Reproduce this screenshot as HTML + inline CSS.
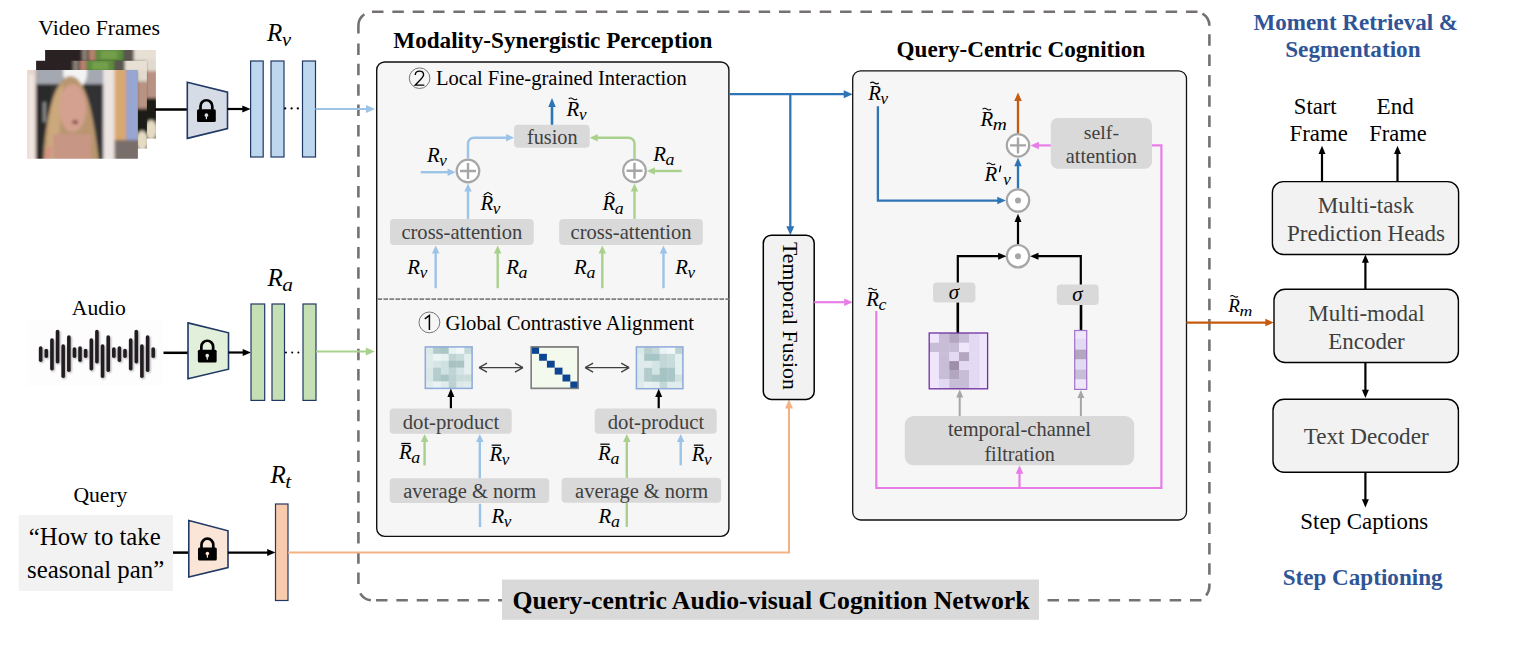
<!DOCTYPE html>
<html><head><meta charset="utf-8"><style>
html,body{margin:0;padding:0;background:#fff;width:1527px;height:653px;overflow:hidden;position:relative}
</style></head><body>
<svg width="1527" height="653" viewBox="0 0 1527 653" style="position:absolute;left:0;top:0">
<rect width="1527" height="653" fill="#fff"/>
<path d="M372.00 11.75h11.50 M392.35 11.75h11.50 M412.70 11.75h11.50 M433.05 11.75h11.50 M453.40 11.75h11.50 M473.75 11.75h11.50 M494.10 11.75h11.50 M514.45 11.75h11.50 M534.80 11.75h11.50 M555.15 11.75h11.50 M575.50 11.75h11.50 M595.85 11.75h11.50 M616.20 11.75h11.50 M636.55 11.75h11.50 M656.90 11.75h11.50 M677.25 11.75h11.50 M697.60 11.75h11.50 M717.95 11.75h11.50 M738.30 11.75h11.50 M758.65 11.75h11.50 M779.00 11.75h11.50 M799.35 11.75h11.50 M819.70 11.75h11.50 M840.05 11.75h11.50 M860.40 11.75h11.50 M880.75 11.75h11.50 M901.10 11.75h11.50 M921.45 11.75h11.50 M941.80 11.75h11.50 M962.15 11.75h11.50 M982.50 11.75h11.50 M1002.85 11.75h11.50 M1023.20 11.75h11.50 M1043.55 11.75h11.50 M1063.90 11.75h11.50 M1084.25 11.75h11.50 M1104.60 11.75h11.50 M1124.95 11.75h11.50 M1145.30 11.75h11.50 M1165.65 11.75h11.50 M1186.00 11.75h11.50 M1209.40 34.20v11.50 M1209.40 54.55v11.50 M1209.40 74.90v11.50 M1209.40 95.25v11.50 M1209.40 115.60v11.50 M1209.40 135.95v11.50 M1209.40 156.30v11.50 M1209.40 176.65v11.50 M1209.40 197.00v11.50 M1209.40 217.35v11.50 M1209.40 237.70v11.50 M1209.40 258.05v11.50 M1209.40 278.40v11.50 M1209.40 298.75v11.50 M1209.40 319.10v11.50 M1209.40 339.45v11.50 M1209.40 359.80v11.50 M1209.40 380.15v11.50 M1209.40 400.50v11.50 M1209.40 420.85v11.50 M1209.40 441.20v11.50 M1209.40 461.55v11.50 M1209.40 481.90v11.50 M1209.40 502.25v11.50 M1209.40 522.60v11.50 M1209.40 542.95v11.50 M1209.40 563.30v11.50 M376.00 600.30h11.50 M396.35 600.30h11.50 M416.70 600.30h11.50 M437.05 600.30h11.50 M457.40 600.30h11.50 M477.75 600.30h11.50 M498.10 600.30h11.50 M518.45 600.30h11.50 M538.80 600.30h11.50 M559.15 600.30h11.50 M579.50 600.30h11.50 M599.85 600.30h11.50 M620.20 600.30h11.50 M640.55 600.30h11.50 M660.90 600.30h11.50 M681.25 600.30h11.50 M701.60 600.30h11.50 M721.95 600.30h11.50 M742.30 600.30h11.50 M762.65 600.30h11.50 M783.00 600.30h11.50 M803.35 600.30h11.50 M823.70 600.30h11.50 M844.05 600.30h11.50 M864.40 600.30h11.50 M884.75 600.30h11.50 M905.10 600.30h11.50 M925.45 600.30h11.50 M945.80 600.30h11.50 M966.15 600.30h11.50 M986.50 600.30h11.50 M1006.85 600.30h11.50 M1027.20 600.30h11.50 M1047.55 600.30h11.50 M1067.90 600.30h11.50 M1088.25 600.30h11.50 M1108.60 600.30h11.50 M1128.95 600.30h11.50 M1149.30 600.30h11.50 M1169.65 600.30h11.50 M1190.00 600.30h11.50 M358.40 43.50v11.50 M358.40 63.85v11.50 M358.40 84.20v11.50 M358.40 104.55v11.50 M358.40 124.90v11.50 M358.40 145.25v11.50 M358.40 165.60v11.50 M358.40 185.95v11.50 M358.40 206.30v11.50 M358.40 226.65v11.50 M358.40 247.00v11.50 M358.40 267.35v11.50 M358.40 287.70v11.50 M358.40 308.05v11.50 M358.40 328.40v11.50 M358.40 348.75v11.50 M358.40 369.10v11.50 M358.40 389.45v11.50 M358.40 409.80v11.50 M358.40 430.15v11.50 M358.40 450.50v11.50 M358.40 470.85v11.50 M358.40 491.20v11.50 M358.40 511.55v11.50 M358.40 531.90v11.50 M358.40 552.25v11.50 M358.40 572.60v11.50 M358.40 33.5V25.75A14 14 0 0 1 364.37 14.28 M1202.40 13.63A14 14 0 0 1 1209.40 25.75V24.9 M1209.40 583.6V586.30A14 14 0 0 1 1206.12 595.30 M360.28 593.30A14 14 0 0 0 370.90 600.30" fill="none" stroke="#767171" stroke-width="2.6"/>
<text x="38.30" y="34.90" style="font-family:'Liberation Serif',serif;font-size:21.80px;" fill="#000" >Video Frames</text>
<defs><filter id="bl" x="-5%" y="-5%" width="110%" height="110%"><feGaussianBlur stdDeviation="1.7"/></filter><clipPath id="c1"><rect x="45.1" y="50" width="110.8" height="88.6"/></clipPath><clipPath id="c2"><rect x="36.1" y="60.8" width="110.8" height="87.8"/></clipPath><clipPath id="c3"><rect x="27.2" y="70.1" width="110.7" height="88.7"/></clipPath></defs>
<g clip-path="url(#c1)"><g filter="url(#bl)">
<rect x="42.1" y="47.0" width="117.0" height="95.0" fill="#2a2420"/>
<rect x="82.1" y="47.0" width="5.0" height="14.0" fill="#8a8278"/>
<rect x="88.7" y="47.0" width="7.0" height="14.0" fill="#b88070"/>
<rect x="95.5" y="47.0" width="28.1" height="14.0" fill="#5d8c3e"/>
<rect x="101.1" y="51.0" width="16.0" height="8.0" fill="#74a04c"/>
<rect x="123.6" y="47.0" width="10.2" height="14.0" fill="#5a5450"/>
<rect x="133.8" y="47.0" width="26.0" height="14.0" fill="#e8e0d4"/>
<rect x="146.1" y="59.0" width="14.0" height="12.0" fill="#e2dace"/>
<rect x="146.1" y="71.0" width="14.0" height="27.0" fill="#b89282"/>
<rect x="146.1" y="98.0" width="14.0" height="24.0" fill="#1c1a18"/>
<ellipse cx="151.1" cy="130.0" rx="6" ry="10" fill="#e6dcc4"/>
</g></g>
<g clip-path="url(#c2)"><g filter="url(#bl)">
<rect x="33.1" y="57.8" width="117.0" height="95.0" fill="#2a2420"/>
<rect x="73.1" y="57.8" width="5.0" height="14.0" fill="#8a8278"/>
<rect x="79.7" y="57.8" width="7.0" height="14.0" fill="#b88070"/>
<rect x="86.5" y="57.8" width="28.1" height="14.0" fill="#5d8c3e"/>
<rect x="92.1" y="61.8" width="16.0" height="8.0" fill="#74a04c"/>
<rect x="114.6" y="57.8" width="10.2" height="14.0" fill="#5a5450"/>
<rect x="124.8" y="57.8" width="26.0" height="14.0" fill="#e8e0d4"/>
<rect x="137.1" y="69.8" width="14.0" height="12.0" fill="#e2dace"/>
<rect x="137.1" y="81.8" width="14.0" height="27.0" fill="#b89282"/>
<rect x="137.1" y="108.8" width="14.0" height="24.0" fill="#1c1a18"/>
<ellipse cx="142.1" cy="140.8" rx="6" ry="10" fill="#e6dcc4"/>
</g></g>
<g clip-path="url(#c3)"><g filter="url(#bl)">
<rect x="24.2" y="67.1" width="117.0" height="95.0" fill="#313133"/>
<rect x="24.2" y="67.1" width="12.0" height="95.0" fill="#e8d6ce"/>
<rect x="29.2" y="75.1" width="4.0" height="85.0" fill="#f2eae6"/>
<rect x="36.2" y="67.1" width="70.0" height="17.0" fill="#a4a8b0"/>
<ellipse cx="75.2" cy="72.1" rx="12" ry="17" fill="#f4f4f4"/>
<rect x="36.2" y="84.1" width="15.0" height="80.0" fill="#2c2a2a"/>
<rect x="43.2" y="102.1" width="2.5" height="20.0" fill="#9a9a9a"/>
<rect x="84.2" y="84.1" width="20.0" height="60.0" fill="#303236"/>
<rect x="103.2" y="67.1" width="12.0" height="95.0" fill="#ece4e0"/>
<rect x="114.5" y="67.1" width="12.0" height="73.0" fill="#d8a870"/>
<rect x="126.2" y="67.1" width="14.0" height="73.0" fill="#98a6d2"/>
<rect x="114.5" y="140.1" width="26.0" height="22.0" fill="#7a6e6a"/>
<path d="M43.2 162.1 C 45.2 120.1 53.2 78.1 70.2 76.1 C 85.2 76.1 93.2 110.1 99.2 162.1 L 39.2 162.1 Z" fill="#b89670"/>
<path d="M46.2 160.1 C 47.2 120.1 53.2 90.1 63.2 84.1 L 57.2 160.1 Z" fill="#cfae80" opacity="0.8"/>
<ellipse cx="72.7" cy="108.1" rx="13.5" ry="24" fill="#d4a090"/>
<ellipse cx="75.2" cy="122.1" rx="3" ry="2.2" fill="#8a5048"/>
<rect x="53.2" y="134.1" width="38.0" height="28.0" fill="#c89684"/>
<path d="M44.2 160.1 l 4 -14 l 4 2 l -3 14z" fill="#d89088"/>
</g></g>
<line x1="155.00" y1="109.60" x2="188.00" y2="109.60" stroke="#000" stroke-width="2.50"/>
<polygon points="187.30,82.30 227.50,92.10 227.50,128.60 187.30,138.40" fill="#d6dce5" stroke="#203864" stroke-width="1.6"/>
<rect x="197.00" y="109.15" width="18.8" height="12.8" rx="1.5" fill="#000"/>
<path d="M200.50 109.65 v-3.5 a5.9 5.9 0 0 1 11.8 0 v3.5" fill="none" stroke="#000" stroke-width="2.7"/>
<circle cx="206.40" cy="115.15" r="1.8" fill="#d6dce5"/>
<rect x="205.80" y="115.15" width="1.2" height="4" fill="#d6dce5"/>
<polyline points="227.50,109.00 243.96,109.00" fill="none" stroke="#000" stroke-width="2.20" stroke-linejoin="miter" />
<polygon points="250.60,109.00 242.30,105.50 242.30,112.50" fill="#000"/>
<rect x="250.60" y="61.00" width="12.60" height="96.00" rx="0.00" fill="#bdd7ee" stroke="#203864" stroke-width="1.20" />
<rect x="271.00" y="61.00" width="13.00" height="96.00" rx="0.00" fill="#bdd7ee" stroke="#203864" stroke-width="1.20" />
<rect x="302.50" y="61.00" width="13.00" height="96.00" rx="0.00" fill="#bdd7ee" stroke="#203864" stroke-width="1.20" />
<circle cx="285.2" cy="108.4" r="1.15" fill="#000"/>
<circle cx="291.6" cy="108.4" r="1.15" fill="#000"/>
<circle cx="297.8" cy="108.4" r="1.15" fill="#000"/>
<text x="267.09" y="40.70" style="font-family:'Liberation Serif',serif;font-style:italic;font-size:25.00px">R</text>
<text transform="translate(281.90 45.70) scale(1.050 1)" x="0" y="0" style="font-family:'Liberation Serif',serif;font-style:italic;font-size:19.50px">v</text>
<polyline points="315.50,108.90 367.80,108.90" fill="none" stroke="#9dc3e6" stroke-width="2.00" stroke-linejoin="miter" />
<polygon points="375.00,108.90 366.00,104.90 366.00,112.90" fill="#9dc3e6"/>
<text x="71.80" y="314.60" style="font-family:'Liberation Serif',serif;font-size:21.64px;" fill="#000" >Audio</text>
<rect x="28" y="319.8" width="134.8" height="66.4" fill="#fdfdfd"/>
<defs><filter id="wsh" x="-50%" y="-10%" width="200%" height="120%"><feGaussianBlur in="SourceAlpha" stdDeviation="1.2"/><feOffset dx="0.6" dy="0.8"/><feComponentTransfer><feFuncA type="linear" slope="0.35"/></feComponentTransfer><feMerge><feMergeNode/><feMergeNode in="SourceGraphic"/></feMerge></filter></defs>
<g stroke="#231f20" stroke-width="3.6" stroke-linecap="round" filter="url(#wsh)">
<line x1="40.65" y1="348.00" x2="40.65" y2="360.20"/>
<line x1="46.25" y1="350.50" x2="46.25" y2="356.20"/>
<line x1="51.95" y1="340.00" x2="51.95" y2="368.70"/>
<line x1="57.55" y1="331.60" x2="57.55" y2="361.70"/>
<line x1="63.15" y1="346.00" x2="63.15" y2="376.20"/>
<line x1="68.85" y1="337.00" x2="68.85" y2="370.20"/>
<line x1="74.45" y1="349.00" x2="74.45" y2="356.20"/>
<line x1="80.02" y1="348.00" x2="80.02" y2="360.20"/>
<line x1="85.62" y1="350.50" x2="85.62" y2="356.20"/>
<line x1="91.32" y1="340.00" x2="91.32" y2="368.70"/>
<line x1="96.92" y1="331.60" x2="96.92" y2="361.70"/>
<line x1="102.52" y1="346.00" x2="102.52" y2="376.20"/>
<line x1="108.22" y1="337.00" x2="108.22" y2="370.20"/>
<line x1="113.82" y1="349.00" x2="113.82" y2="356.20"/>
<line x1="119.39" y1="348.00" x2="119.39" y2="360.20"/>
<line x1="124.99" y1="350.50" x2="124.99" y2="356.20"/>
<line x1="130.69" y1="340.00" x2="130.69" y2="368.70"/>
<line x1="136.29" y1="331.60" x2="136.29" y2="361.70"/>
<line x1="141.89" y1="346.00" x2="141.89" y2="376.20"/>
<line x1="147.59" y1="337.00" x2="147.59" y2="370.20"/>
<line x1="153.19" y1="349.00" x2="153.19" y2="356.20"/>
</g>
<line x1="163.50" y1="352.80" x2="188.50" y2="352.80" stroke="#000" stroke-width="2.50"/>
<polygon points="188.00,322.90 228.50,332.80 228.50,369.20 188.00,378.80" fill="#e2efda" stroke="#203864" stroke-width="1.6"/>
<rect x="197.85" y="349.65" width="18.8" height="12.8" rx="1.5" fill="#000"/>
<path d="M201.35 350.15 v-3.5 a5.9 5.9 0 0 1 11.8 0 v3.5" fill="none" stroke="#000" stroke-width="2.7"/>
<circle cx="207.25" cy="355.65" r="1.8" fill="#e2efda"/>
<rect x="206.65" y="355.65" width="1.2" height="4" fill="#e2efda"/>
<polyline points="228.50,352.50 244.36,352.50" fill="none" stroke="#000" stroke-width="2.20" stroke-linejoin="miter" />
<polygon points="251.00,352.50 242.70,349.00 242.70,356.00" fill="#000"/>
<rect x="251.00" y="304.00" width="13.70" height="96.40" rx="0.00" fill="#c5e0b4" stroke="#203864" stroke-width="1.20" />
<rect x="272.00" y="304.00" width="12.50" height="96.40" rx="0.00" fill="#c5e0b4" stroke="#203864" stroke-width="1.20" />
<rect x="303.00" y="304.00" width="13.00" height="96.40" rx="0.00" fill="#c5e0b4" stroke="#203864" stroke-width="1.20" />
<circle cx="286.0" cy="352.6" r="1" fill="#000"/>
<circle cx="292.2" cy="352.6" r="1" fill="#000"/>
<circle cx="298.4" cy="352.6" r="1" fill="#000"/>
<text x="267.39" y="285.70" style="font-family:'Liberation Serif',serif;font-style:italic;font-size:25.00px">R</text>
<text transform="translate(282.20 290.70) scale(1.100 1)" x="0" y="0" style="font-family:'Liberation Serif',serif;font-style:italic;font-size:19.50px">a</text>
<polyline points="316.00,351.50 367.60,351.50" fill="none" stroke="#a9d18e" stroke-width="2.00" stroke-linejoin="miter" />
<polygon points="374.80,351.50 365.80,347.50 365.80,355.50" fill="#a9d18e"/>
<text x="73.40" y="502.00" style="font-family:'Liberation Serif',serif;font-size:21.64px;" fill="#000" >Query</text>
<rect x="18.70" y="515.00" width="154.30" height="75.90" rx="0.00" fill="#f2f2f2" stroke="none" stroke-width="1.00" />
<text x="28.80" y="545.20" style="font-family:'Liberation Serif',serif;font-size:24.74px;" fill="#000" >“How to take</text>
<text x="27.00" y="578.30" style="font-family:'Liberation Serif',serif;font-size:24.83px;" fill="#000" >seasonal pan”</text>
<line x1="173.00" y1="552.60" x2="189.00" y2="552.60" stroke="#000" stroke-width="2.50"/>
<polygon points="188.80,520.60 228.00,530.80 228.00,567.50 188.80,577.00" fill="#fbe5d6" stroke="#203864" stroke-width="1.6"/>
<rect x="198.00" y="547.60" width="18.8" height="12.8" rx="1.5" fill="#000"/>
<path d="M201.50 548.10 v-3.5 a5.9 5.9 0 0 1 11.8 0 v3.5" fill="none" stroke="#000" stroke-width="2.7"/>
<circle cx="207.40" cy="553.60" r="1.8" fill="#fbe5d6"/>
<rect x="206.80" y="553.60" width="1.2" height="4" fill="#fbe5d6"/>
<polyline points="228.00,552.60 268.86,552.60" fill="none" stroke="#000" stroke-width="2.20" stroke-linejoin="miter" />
<polygon points="275.50,552.60 267.20,549.10 267.20,556.10" fill="#000"/>
<rect x="275.50" y="504.00" width="12.50" height="96.50" rx="0.00" fill="#f8cbad" stroke="#203864" stroke-width="1.20" />
<text x="270.49" y="482.60" style="font-family:'Liberation Serif',serif;font-style:italic;font-size:25.00px">R</text>
<text transform="translate(285.30 487.60) scale(1.100 1)" x="0" y="0" style="font-family:'Liberation Serif',serif;font-style:italic;font-size:19.50px">t</text>
<polyline points="288.00,552.40 789.00,552.40 789.00,406.60" fill="none" stroke="#f4b183" stroke-width="2.00" stroke-linejoin="miter" />
<polygon points="789.00,399.40 785.00,408.40 793.00,408.40" fill="#f4b183"/>
<rect x="502.00" y="579.50" width="537.00" height="40.30" rx="0.00" fill="#d9d9d9" stroke="none" stroke-width="1.00" />
<text x="512.40" y="608.80" style="font-family:'Liberation Serif',serif;font-size:25.75px;font-weight:bold;" fill="#000" >Query-centric Audio-visual Cognition Network</text>
<text x="393.30" y="48.20" style="font-family:'Liberation Serif',serif;font-size:23.16px;font-weight:bold;" fill="#000" >Modality-Synergistic Perception</text>
<rect x="376.70" y="62.00" width="352.20" height="474.40" rx="8.00" fill="#f6f6f6" stroke="#111" stroke-width="1.40" />
<circle cx="419.60" cy="78.20" r="10.30" fill="none" stroke="#555" stroke-width="0.8"/>
<path d="M415.30 75.00 c0 -2.4 1.9 -3.9 4.2 -3.9 c2.3 0 4.1 1.5 4.1 3.6 c0 2.4 -3 4.7 -8.5 10.4 h9.2" fill="none" stroke="#000" stroke-width="1.35"/>
<text x="436.00" y="84.60" style="font-family:'Liberation Serif',serif;font-size:20.54px;" fill="#000" >Local Fine-grained Interaction</text>
<line x1="377.50" y1="299.20" x2="728.70" y2="299.20" stroke="#7f7f7f" stroke-width="1.80"/>
<line x1="377.5" y1="299.2" x2="728.7" y2="299.2" stroke="#f6f6f6" stroke-width="2" stroke-dasharray="0 4.5 1.5 0"/>
<circle cx="429.40" cy="322.40" r="10.40" fill="none" stroke="#555" stroke-width="0.8"/>
<path d="M424.80 318.90 l4.6 -3.4 v14.4" fill="none" stroke="#000" stroke-width="1.5"/>
<text x="445.50" y="329.60" style="font-family:'Liberation Serif',serif;font-size:20.61px;" fill="#000" >Global Contrastive Alignment</text>
<rect x="514.10" y="124.70" width="75.60" height="23.00" rx="4.00" fill="#d9d9d9" stroke="none" stroke-width="0.00" />
<text x="526.90" y="143.80" style="font-family:'Liberation Serif',serif;font-size:20.28px;" fill="#404040" >fusion</text>
<polyline points="552.00,124.70 552.00,105.10" fill="none" stroke="#2e75b6" stroke-width="2.60" stroke-linejoin="miter" />
<polygon points="552.00,97.90 548.25,106.90 555.75,106.90" fill="#2e75b6"/>
<text x="566.56" y="115.80" style="font-family:'Liberation Serif',serif;font-style:italic;font-size:20.80px">R</text>
<text transform="translate(578.88 119.96) scale(1.050 1)" x="0" y="0" style="font-family:'Liberation Serif',serif;font-style:italic;font-size:16.22px">v</text>
<path d="M568.69 98.85 q 2.13 -1.77 4.26 0 t 4.26 0" fill="none" stroke="#000" stroke-width="1.14"/>
<circle cx="468.00" cy="171.00" r="11.30" fill="#fff" stroke="#a6a6a6" stroke-width="2.2"/>
<path d="M460.00 171.00 h16 M468.00 163.00 v16" stroke="#a6a6a6" stroke-width="2.4"/>
<circle cx="634.50" cy="170.80" r="11.30" fill="#fff" stroke="#a6a6a6" stroke-width="2.2"/>
<path d="M626.50 170.80 h16 M634.50 162.80 v16" stroke="#a6a6a6" stroke-width="2.4"/>
<path d="M468 158.6 V143.7 a6 6 0 0 1 6 -6 H507" fill="none" stroke="#9dc3e6" stroke-width="2.4"/>
<polygon points="514.10,137.70 506.10,133.95 506.10,141.45" fill="#9dc3e6"/>
<path d="M634.5 158.4 V143.7 a6 6 0 0 0 -6 -6 H597" fill="none" stroke="#a9d18e" stroke-width="2.4"/>
<polygon points="589.70,137.70 597.70,133.95 597.70,141.45" fill="#a9d18e"/>
<polyline points="420.70,172.20 449.20,172.20" fill="none" stroke="#9dc3e6" stroke-width="2.40" stroke-linejoin="miter" />
<polygon points="455.60,172.20 447.60,168.45 447.60,175.95" fill="#9dc3e6"/>
<polyline points="681.70,171.00 653.30,171.00" fill="none" stroke="#a9d18e" stroke-width="2.40" stroke-linejoin="miter" />
<polygon points="646.90,171.00 654.90,167.25 654.90,174.75" fill="#a9d18e"/>
<text x="426.96" y="161.70" style="font-family:'Liberation Serif',serif;font-style:italic;font-size:20.80px">R</text>
<text transform="translate(439.28 165.86) scale(1.050 1)" x="0" y="0" style="font-family:'Liberation Serif',serif;font-style:italic;font-size:16.22px">v</text>
<text x="653.16" y="161.00" style="font-family:'Liberation Serif',serif;font-style:italic;font-size:20.80px">R</text>
<text transform="translate(665.48 165.16) scale(1.100 1)" x="0" y="0" style="font-family:'Liberation Serif',serif;font-style:italic;font-size:16.22px">a</text>
<polyline points="468.00,218.90 468.00,190.00" fill="none" stroke="#9dc3e6" stroke-width="2.40" stroke-linejoin="miter" />
<polygon points="468.00,183.60 464.25,191.60 471.75,191.60" fill="#9dc3e6"/>
<polyline points="634.50,218.90 634.50,189.80" fill="none" stroke="#a9d18e" stroke-width="2.40" stroke-linejoin="miter" />
<polygon points="634.50,183.40 630.75,191.40 638.25,191.40" fill="#a9d18e"/>
<text x="480.46" y="209.80" style="font-family:'Liberation Serif',serif;font-style:italic;font-size:20.80px">R</text>
<text transform="translate(492.78 213.96) scale(1.050 1)" x="0" y="0" style="font-family:'Liberation Serif',serif;font-style:italic;font-size:16.22px">v</text>
<polyline points="483.84,194.93 488.00,192.33 492.16,194.93" fill="none" stroke="#000" stroke-width="1.14"/>
<text x="602.46" y="209.80" style="font-family:'Liberation Serif',serif;font-style:italic;font-size:20.80px">R</text>
<text transform="translate(614.78 213.96) scale(1.100 1)" x="0" y="0" style="font-family:'Liberation Serif',serif;font-style:italic;font-size:16.22px">a</text>
<polyline points="605.84,194.93 610.00,192.33 614.16,194.93" fill="none" stroke="#000" stroke-width="1.14"/>
<rect x="390.00" y="219.10" width="143.70" height="25.80" rx="4.00" fill="#d9d9d9" stroke="none" stroke-width="0.00" />
<text x="401.40" y="239.20" style="font-family:'Liberation Serif',serif;font-size:20.55px;" fill="#404040" >cross-attention</text>
<rect x="559.20" y="219.10" width="143.60" height="25.80" rx="4.00" fill="#d9d9d9" stroke="none" stroke-width="0.00" />
<text x="570.60" y="239.20" style="font-family:'Liberation Serif',serif;font-size:20.55px;" fill="#404040" >cross-attention</text>
<polyline points="435.70,288.20 435.70,251.80" fill="none" stroke="#9dc3e6" stroke-width="2.40" stroke-linejoin="miter" />
<polygon points="435.70,245.40 431.95,253.40 439.45,253.40" fill="#9dc3e6"/>
<polyline points="497.70,288.20 497.70,251.80" fill="none" stroke="#a9d18e" stroke-width="2.40" stroke-linejoin="miter" />
<polygon points="497.70,245.40 493.95,253.40 501.45,253.40" fill="#a9d18e"/>
<polyline points="602.30,288.20 602.30,251.80" fill="none" stroke="#a9d18e" stroke-width="2.40" stroke-linejoin="miter" />
<polygon points="602.30,245.40 598.55,253.40 606.05,253.40" fill="#a9d18e"/>
<polyline points="663.50,288.20 663.50,251.80" fill="none" stroke="#9dc3e6" stroke-width="2.40" stroke-linejoin="miter" />
<polygon points="663.50,245.40 659.75,253.40 667.25,253.40" fill="#9dc3e6"/>
<text x="407.36" y="273.50" style="font-family:'Liberation Serif',serif;font-style:italic;font-size:20.80px">R</text>
<text transform="translate(419.68 277.66) scale(1.050 1)" x="0" y="0" style="font-family:'Liberation Serif',serif;font-style:italic;font-size:16.22px">v</text>
<text x="506.16" y="273.50" style="font-family:'Liberation Serif',serif;font-style:italic;font-size:20.80px">R</text>
<text transform="translate(518.48 277.66) scale(1.100 1)" x="0" y="0" style="font-family:'Liberation Serif',serif;font-style:italic;font-size:16.22px">a</text>
<text x="574.06" y="273.50" style="font-family:'Liberation Serif',serif;font-style:italic;font-size:20.80px">R</text>
<text transform="translate(586.38 277.66) scale(1.100 1)" x="0" y="0" style="font-family:'Liberation Serif',serif;font-style:italic;font-size:16.22px">a</text>
<text x="675.16" y="273.50" style="font-family:'Liberation Serif',serif;font-style:italic;font-size:20.80px">R</text>
<text transform="translate(687.48 277.66) scale(1.050 1)" x="0" y="0" style="font-family:'Liberation Serif',serif;font-style:italic;font-size:16.22px">v</text>
<rect x="425.30" y="346.90" width="8.10" height="7.22" rx="0.00" fill="#dae8e8" stroke="none" stroke-width="1.00" />
<rect x="433.10" y="346.90" width="8.10" height="7.22" rx="0.00" fill="#b0caca" stroke="none" stroke-width="1.00" />
<rect x="440.90" y="346.90" width="8.10" height="7.22" rx="0.00" fill="#aac6c6" stroke="none" stroke-width="1.00" />
<rect x="448.70" y="346.90" width="8.10" height="7.22" rx="0.00" fill="#e8f2f2" stroke="none" stroke-width="1.00" />
<rect x="456.50" y="346.90" width="8.10" height="7.22" rx="0.00" fill="#f2f8f8" stroke="none" stroke-width="1.00" />
<rect x="464.30" y="346.90" width="8.10" height="7.22" rx="0.00" fill="#c3d8d8" stroke="none" stroke-width="1.00" />
<rect x="425.30" y="353.82" width="8.10" height="7.22" rx="0.00" fill="#e0ecec" stroke="none" stroke-width="1.00" />
<rect x="433.10" y="353.82" width="8.10" height="7.22" rx="0.00" fill="#ecf4f4" stroke="none" stroke-width="1.00" />
<rect x="440.90" y="353.82" width="8.10" height="7.22" rx="0.00" fill="#e8f1f1" stroke="none" stroke-width="1.00" />
<rect x="448.70" y="353.82" width="8.10" height="7.22" rx="0.00" fill="#bfd4d4" stroke="none" stroke-width="1.00" />
<rect x="456.50" y="353.82" width="8.10" height="7.22" rx="0.00" fill="#c8dbdb" stroke="none" stroke-width="1.00" />
<rect x="464.30" y="353.82" width="8.10" height="7.22" rx="0.00" fill="#e3eeee" stroke="none" stroke-width="1.00" />
<rect x="425.30" y="360.73" width="8.10" height="7.22" rx="0.00" fill="#dfebeb" stroke="none" stroke-width="1.00" />
<rect x="433.10" y="360.73" width="8.10" height="7.22" rx="0.00" fill="#d6e5e5" stroke="none" stroke-width="1.00" />
<rect x="440.90" y="360.73" width="8.10" height="7.22" rx="0.00" fill="#d0e1e1" stroke="none" stroke-width="1.00" />
<rect x="448.70" y="360.73" width="8.10" height="7.22" rx="0.00" fill="#a6c2c2" stroke="none" stroke-width="1.00" />
<rect x="456.50" y="360.73" width="8.10" height="7.22" rx="0.00" fill="#aac4c4" stroke="none" stroke-width="1.00" />
<rect x="464.30" y="360.73" width="8.10" height="7.22" rx="0.00" fill="#e4efef" stroke="none" stroke-width="1.00" />
<rect x="425.30" y="367.65" width="8.10" height="7.22" rx="0.00" fill="#dae8e8" stroke="none" stroke-width="1.00" />
<rect x="433.10" y="367.65" width="8.10" height="7.22" rx="0.00" fill="#b5cdcd" stroke="none" stroke-width="1.00" />
<rect x="440.90" y="367.65" width="8.10" height="7.22" rx="0.00" fill="#d0e1e1" stroke="none" stroke-width="1.00" />
<rect x="448.70" y="367.65" width="8.10" height="7.22" rx="0.00" fill="#bfd4d4" stroke="none" stroke-width="1.00" />
<rect x="456.50" y="367.65" width="8.10" height="7.22" rx="0.00" fill="#d5e4e4" stroke="none" stroke-width="1.00" />
<rect x="464.30" y="367.65" width="8.10" height="7.22" rx="0.00" fill="#e5efef" stroke="none" stroke-width="1.00" />
<rect x="425.30" y="374.57" width="8.10" height="7.22" rx="0.00" fill="#d7e6e6" stroke="none" stroke-width="1.00" />
<rect x="433.10" y="374.57" width="8.10" height="7.22" rx="0.00" fill="#b3cccc" stroke="none" stroke-width="1.00" />
<rect x="440.90" y="374.57" width="8.10" height="7.22" rx="0.00" fill="#a9c5c5" stroke="none" stroke-width="1.00" />
<rect x="448.70" y="374.57" width="8.10" height="7.22" rx="0.00" fill="#bcd2d2" stroke="none" stroke-width="1.00" />
<rect x="456.50" y="374.57" width="8.10" height="7.22" rx="0.00" fill="#cbdcdc" stroke="none" stroke-width="1.00" />
<rect x="464.30" y="374.57" width="8.10" height="7.22" rx="0.00" fill="#cadcdc" stroke="none" stroke-width="1.00" />
<rect x="425.30" y="381.48" width="8.10" height="7.22" rx="0.00" fill="#e1eded" stroke="none" stroke-width="1.00" />
<rect x="433.10" y="381.48" width="8.10" height="7.22" rx="0.00" fill="#eaf3f3" stroke="none" stroke-width="1.00" />
<rect x="440.90" y="381.48" width="8.10" height="7.22" rx="0.00" fill="#e0ecec" stroke="none" stroke-width="1.00" />
<rect x="448.70" y="381.48" width="8.10" height="7.22" rx="0.00" fill="#bcd2d2" stroke="none" stroke-width="1.00" />
<rect x="456.50" y="381.48" width="8.10" height="7.22" rx="0.00" fill="#dce9e9" stroke="none" stroke-width="1.00" />
<rect x="464.30" y="381.48" width="8.10" height="7.22" rx="0.00" fill="#dfebeb" stroke="none" stroke-width="1.00" />
<rect x="425.30" y="346.90" width="46.80" height="41.50" rx="0.00" fill="none" stroke="#8faadc" stroke-width="1.50" />
<rect x="636.40" y="346.90" width="8.05" height="7.27" rx="0.00" fill="#d8e7e7" stroke="none" stroke-width="1.00" />
<rect x="644.15" y="346.90" width="8.05" height="7.27" rx="0.00" fill="#b9d0d0" stroke="none" stroke-width="1.00" />
<rect x="651.90" y="346.90" width="8.05" height="7.27" rx="0.00" fill="#c4d8d8" stroke="none" stroke-width="1.00" />
<rect x="659.65" y="346.90" width="8.05" height="7.27" rx="0.00" fill="#eaf3f3" stroke="none" stroke-width="1.00" />
<rect x="667.40" y="346.90" width="8.05" height="7.27" rx="0.00" fill="#f2f8f8" stroke="none" stroke-width="1.00" />
<rect x="675.15" y="346.90" width="8.05" height="7.27" rx="0.00" fill="#bdd3d3" stroke="none" stroke-width="1.00" />
<rect x="636.40" y="353.87" width="8.05" height="7.27" rx="0.00" fill="#e0ecec" stroke="none" stroke-width="1.00" />
<rect x="644.15" y="353.87" width="8.05" height="7.27" rx="0.00" fill="#a8c5c5" stroke="none" stroke-width="1.00" />
<rect x="651.90" y="353.87" width="8.05" height="7.27" rx="0.00" fill="#a8c5c5" stroke="none" stroke-width="1.00" />
<rect x="659.65" y="353.87" width="8.05" height="7.27" rx="0.00" fill="#c2d6d6" stroke="none" stroke-width="1.00" />
<rect x="667.40" y="353.87" width="8.05" height="7.27" rx="0.00" fill="#c9dcdc" stroke="none" stroke-width="1.00" />
<rect x="675.15" y="353.87" width="8.05" height="7.27" rx="0.00" fill="#e4efef" stroke="none" stroke-width="1.00" />
<rect x="636.40" y="360.83" width="8.05" height="7.27" rx="0.00" fill="#deeaea" stroke="none" stroke-width="1.00" />
<rect x="644.15" y="360.83" width="8.05" height="7.27" rx="0.00" fill="#e0ecec" stroke="none" stroke-width="1.00" />
<rect x="651.90" y="360.83" width="8.05" height="7.27" rx="0.00" fill="#d4e4e4" stroke="none" stroke-width="1.00" />
<rect x="659.65" y="360.83" width="8.05" height="7.27" rx="0.00" fill="#c3d7d7" stroke="none" stroke-width="1.00" />
<rect x="667.40" y="360.83" width="8.05" height="7.27" rx="0.00" fill="#c8dada" stroke="none" stroke-width="1.00" />
<rect x="675.15" y="360.83" width="8.05" height="7.27" rx="0.00" fill="#e4efef" stroke="none" stroke-width="1.00" />
<rect x="636.40" y="367.80" width="8.05" height="7.27" rx="0.00" fill="#dbe9e9" stroke="none" stroke-width="1.00" />
<rect x="644.15" y="367.80" width="8.05" height="7.27" rx="0.00" fill="#b2cbcb" stroke="none" stroke-width="1.00" />
<rect x="651.90" y="367.80" width="8.05" height="7.27" rx="0.00" fill="#d2e3e3" stroke="none" stroke-width="1.00" />
<rect x="659.65" y="367.80" width="8.05" height="7.27" rx="0.00" fill="#a5c3c3" stroke="none" stroke-width="1.00" />
<rect x="667.40" y="367.80" width="8.05" height="7.27" rx="0.00" fill="#aac6c6" stroke="none" stroke-width="1.00" />
<rect x="675.15" y="367.80" width="8.05" height="7.27" rx="0.00" fill="#e4efef" stroke="none" stroke-width="1.00" />
<rect x="636.40" y="374.77" width="8.05" height="7.27" rx="0.00" fill="#d9e8e8" stroke="none" stroke-width="1.00" />
<rect x="644.15" y="374.77" width="8.05" height="7.27" rx="0.00" fill="#b2cbcb" stroke="none" stroke-width="1.00" />
<rect x="651.90" y="374.77" width="8.05" height="7.27" rx="0.00" fill="#aac6c6" stroke="none" stroke-width="1.00" />
<rect x="659.65" y="374.77" width="8.05" height="7.27" rx="0.00" fill="#a5c3c3" stroke="none" stroke-width="1.00" />
<rect x="667.40" y="374.77" width="8.05" height="7.27" rx="0.00" fill="#aac6c6" stroke="none" stroke-width="1.00" />
<rect x="675.15" y="374.77" width="8.05" height="7.27" rx="0.00" fill="#d0e1e1" stroke="none" stroke-width="1.00" />
<rect x="636.40" y="381.73" width="8.05" height="7.27" rx="0.00" fill="#dfebeb" stroke="none" stroke-width="1.00" />
<rect x="644.15" y="381.73" width="8.05" height="7.27" rx="0.00" fill="#e9f2f2" stroke="none" stroke-width="1.00" />
<rect x="651.90" y="381.73" width="8.05" height="7.27" rx="0.00" fill="#e4efef" stroke="none" stroke-width="1.00" />
<rect x="659.65" y="381.73" width="8.05" height="7.27" rx="0.00" fill="#c3d7d7" stroke="none" stroke-width="1.00" />
<rect x="667.40" y="381.73" width="8.05" height="7.27" rx="0.00" fill="#e0ecec" stroke="none" stroke-width="1.00" />
<rect x="675.15" y="381.73" width="8.05" height="7.27" rx="0.00" fill="#e1eded" stroke="none" stroke-width="1.00" />
<rect x="636.40" y="346.90" width="46.50" height="41.80" rx="0.00" fill="none" stroke="#8faadc" stroke-width="1.50" />
<rect x="531.30" y="346.90" width="46.80" height="41.50" rx="0.00" fill="#f4f9ee" stroke="#7f7f7f" stroke-width="1.40" />
<rect x="531.30" y="346.90" width="7.80" height="6.92" rx="0.00" fill="#0e4592" stroke="none" stroke-width="1.00" />
<rect x="539.10" y="353.82" width="7.80" height="6.92" rx="0.00" fill="#0e4592" stroke="none" stroke-width="1.00" />
<rect x="546.90" y="360.73" width="7.80" height="6.92" rx="0.00" fill="#0e4592" stroke="none" stroke-width="1.00" />
<rect x="554.70" y="367.65" width="7.80" height="6.92" rx="0.00" fill="#0e4592" stroke="none" stroke-width="1.00" />
<rect x="562.50" y="374.57" width="7.80" height="6.92" rx="0.00" fill="#0e4592" stroke="none" stroke-width="1.00" />
<rect x="570.30" y="381.48" width="7.80" height="6.92" rx="0.00" fill="#0e4592" stroke="none" stroke-width="1.00" />
<rect x="531.30" y="346.90" width="46.80" height="41.50" rx="0.00" fill="none" stroke="#7f7f7f" stroke-width="1.40" />
<path d="M479.00 367.60 H523.00 M479.00 367.60 l8 -4.5 M479.00 367.60 l8 4.5 M523.00 367.60 l-8 -4.5 M523.00 367.60 l-8 4.5" stroke="#404040" stroke-width="1.3" fill="none"/>
<path d="M585.10 367.60 H629.20 M585.10 367.60 l8 -4.5 M585.10 367.60 l8 4.5 M629.20 367.60 l-8 -4.5 M629.20 367.60 l-8 4.5" stroke="#404040" stroke-width="1.3" fill="none"/>
<polyline points="450.90,408.40 450.90,395.24" fill="none" stroke="#000" stroke-width="2.20" stroke-linejoin="miter" />
<polygon points="450.90,388.60 447.40,396.90 454.40,396.90" fill="#000"/>
<polyline points="658.70,408.40 658.70,395.44" fill="none" stroke="#000" stroke-width="2.20" stroke-linejoin="miter" />
<polygon points="658.70,388.80 655.20,397.10 662.20,397.10" fill="#000"/>
<rect x="389.70" y="408.40" width="122.00" height="25.30" rx="4.00" fill="#d9d9d9" stroke="none" stroke-width="0.00" />
<text x="402.70" y="428.60" style="font-family:'Liberation Serif',serif;font-size:20.69px;" fill="#404040" >dot-product</text>
<rect x="594.70" y="408.40" width="122.00" height="25.30" rx="4.00" fill="#d9d9d9" stroke="none" stroke-width="0.00" />
<text x="607.70" y="428.60" style="font-family:'Liberation Serif',serif;font-size:20.69px;" fill="#404040" >dot-product</text>
<rect x="389.70" y="478.30" width="159.50" height="24.80" rx="4.00" fill="#d9d9d9" stroke="none" stroke-width="0.00" />
<text x="403.20" y="498.20" style="font-family:'Liberation Serif',serif;font-size:20.48px;" fill="#404040" >average &amp; norm</text>
<rect x="561.60" y="477.80" width="159.50" height="25.00" rx="4.00" fill="#d9d9d9" stroke="none" stroke-width="0.00" />
<text x="575.10" y="497.90" style="font-family:'Liberation Serif',serif;font-size:20.48px;" fill="#404040" >average &amp; norm</text>
<polyline points="424.60,465.40 424.60,440.30" fill="none" stroke="#a9d18e" stroke-width="2.40" stroke-linejoin="miter" />
<polygon points="424.60,433.90 420.85,441.90 428.35,441.90" fill="#a9d18e"/>
<polyline points="479.80,478.30 479.80,440.30" fill="none" stroke="#9dc3e6" stroke-width="2.40" stroke-linejoin="miter" />
<polygon points="479.80,433.90 476.05,441.90 483.55,441.90" fill="#9dc3e6"/>
<text x="398.96" y="459.30" style="font-family:'Liberation Serif',serif;font-style:italic;font-size:20.80px">R</text>
<text transform="translate(411.28 463.46) scale(1.100 1)" x="0" y="0" style="font-family:'Liberation Serif',serif;font-style:italic;font-size:16.22px">a</text>
<line x1="401.19" y1="443.49" x2="410.55" y2="443.49" stroke="#000" stroke-width="1.25"/>
<text x="489.46" y="461.00" style="font-family:'Liberation Serif',serif;font-style:italic;font-size:20.80px">R</text>
<text transform="translate(501.78 465.16) scale(1.050 1)" x="0" y="0" style="font-family:'Liberation Serif',serif;font-style:italic;font-size:16.22px">v</text>
<line x1="491.69" y1="445.19" x2="501.05" y2="445.19" stroke="#000" stroke-width="1.25"/>
<line x1="480.00" y1="503.80" x2="480.00" y2="527.00" stroke="#9dc3e6" stroke-width="2.40"/>
<text x="491.46" y="522.90" style="font-family:'Liberation Serif',serif;font-style:italic;font-size:20.80px">R</text>
<text transform="translate(503.78 527.06) scale(1.050 1)" x="0" y="0" style="font-family:'Liberation Serif',serif;font-style:italic;font-size:16.22px">v</text>
<line x1="626.80" y1="502.80" x2="626.80" y2="527.00" stroke="#a9d18e" stroke-width="2.40"/>
<text x="598.56" y="522.90" style="font-family:'Liberation Serif',serif;font-style:italic;font-size:20.80px">R</text>
<text transform="translate(610.88 527.06) scale(1.100 1)" x="0" y="0" style="font-family:'Liberation Serif',serif;font-style:italic;font-size:16.22px">a</text>
<polyline points="626.80,477.80 626.80,440.30" fill="none" stroke="#a9d18e" stroke-width="2.40" stroke-linejoin="miter" />
<polygon points="626.80,433.90 623.05,441.90 630.55,441.90" fill="#a9d18e"/>
<polyline points="680.70,465.30 680.70,440.30" fill="none" stroke="#9dc3e6" stroke-width="2.40" stroke-linejoin="miter" />
<polygon points="680.70,433.90 676.95,441.90 684.45,441.90" fill="#9dc3e6"/>
<text x="598.06" y="460.00" style="font-family:'Liberation Serif',serif;font-style:italic;font-size:20.80px">R</text>
<text transform="translate(610.38 464.16) scale(1.100 1)" x="0" y="0" style="font-family:'Liberation Serif',serif;font-style:italic;font-size:16.22px">a</text>
<line x1="600.29" y1="444.19" x2="609.65" y2="444.19" stroke="#000" stroke-width="1.25"/>
<text x="691.66" y="461.00" style="font-family:'Liberation Serif',serif;font-style:italic;font-size:20.80px">R</text>
<text transform="translate(703.98 465.16) scale(1.050 1)" x="0" y="0" style="font-family:'Liberation Serif',serif;font-style:italic;font-size:16.22px">v</text>
<line x1="693.89" y1="445.19" x2="703.25" y2="445.19" stroke="#000" stroke-width="1.25"/>
<polyline points="729.50,94.20 845.50,94.20" fill="none" stroke="#2e75b6" stroke-width="2.30" stroke-linejoin="miter" />
<polygon points="852.70,94.20 843.70,90.20 843.70,98.20" fill="#2e75b6"/>
<polyline points="790.30,94.20 790.30,228.00" fill="none" stroke="#2e75b6" stroke-width="2.30" stroke-linejoin="miter" />
<polygon points="790.30,235.20 786.30,226.20 794.30,226.20" fill="#2e75b6"/>
<rect x="763.30" y="235.20" width="50.90" height="164.20" rx="8.00" fill="#f2f2f2" stroke="#000" stroke-width="1.50" />
<text transform="translate(782.6 242.10) rotate(90)" x="-0.00" y="0" style="font-family:'Liberation Serif',serif;font-size:21.75px">Temporal Fusion</text>
<polyline points="814.20,302.20 845.90,302.20" fill="none" stroke="#e97de8" stroke-width="2.20" stroke-linejoin="miter" />
<polygon points="852.70,302.20 844.20,298.45 844.20,305.95" fill="#e97de8"/>
<text x="896.60" y="57.00" style="font-family:'Liberation Serif',serif;font-size:23.13px;font-weight:bold;" fill="#000" >Query-Centric Cognition</text>
<rect x="852.70" y="70.80" width="333.80" height="449.20" rx="8.00" fill="#f6f6f6" stroke="#111" stroke-width="1.30" />
<text x="868.16" y="99.90" style="font-family:'Liberation Serif',serif;font-style:italic;font-size:20.80px">R</text>
<text transform="translate(880.48 104.06) scale(1.050 1)" x="0" y="0" style="font-family:'Liberation Serif',serif;font-style:italic;font-size:16.22px">v</text>
<path d="M870.29 82.95 q 2.13 -1.77 4.26 0 t 4.26 0" fill="none" stroke="#000" stroke-width="1.14"/>
<polyline points="877.90,106.20 877.90,200.60 999.00,200.60" fill="none" stroke="#2e75b6" stroke-width="2.30" stroke-linejoin="miter" />
<polygon points="1005.80,200.60 997.30,196.85 997.30,204.35" fill="#2e75b6"/>
<polyline points="1018.00,244.20 1018.00,220.34" fill="none" stroke="#000" stroke-width="2.20" stroke-linejoin="miter" />
<polygon points="1018.00,213.70 1014.50,222.00 1021.50,222.00" fill="#000"/>
<polyline points="1018.00,188.50 1018.00,164.50" fill="none" stroke="#2e75b6" stroke-width="2.30" stroke-linejoin="miter" />
<polygon points="1018.00,157.70 1014.25,166.20 1021.75,166.20" fill="#2e75b6"/>
<polyline points="1018.00,133.00 1018.00,99.20" fill="none" stroke="#c55a11" stroke-width="2.30" stroke-linejoin="miter" />
<polygon points="1018.00,92.40 1014.25,100.90 1021.75,100.90" fill="#c55a11"/>
<circle cx="1018.00" cy="200.50" r="11.20" fill="#fff" stroke="#a6a6a6" stroke-width="2.2"/>
<circle cx="1018.00" cy="200.50" r="3" fill="#a6a6a6"/>
<circle cx="1018.00" cy="256.20" r="11.20" fill="#fff" stroke="#a6a6a6" stroke-width="2.2"/>
<circle cx="1018.00" cy="256.20" r="3" fill="#a6a6a6"/>
<circle cx="1018.00" cy="145.40" r="11.20" fill="#fff" stroke="#a6a6a6" stroke-width="2.2"/>
<path d="M1010.00 145.40 h16 M1018.00 137.40 v16" stroke="#a6a6a6" stroke-width="2.4"/>
<text x="980.46" y="126.10" style="font-family:'Liberation Serif',serif;font-style:italic;font-size:20.80px">R</text>
<text transform="translate(992.78 130.26) scale(1.200 1)" x="0" y="0" style="font-family:'Liberation Serif',serif;font-style:italic;font-size:16.22px">m</text>
<path d="M982.59 109.15 q 2.13 -1.77 4.26 0 t 4.26 0" fill="none" stroke="#000" stroke-width="1.14"/>
<text x="984.56" y="180.80" style="font-family:'Liberation Serif',serif;font-style:italic;font-size:20.80px">R</text>
<path d="M1000.62 166.24 L999.58 171.65" stroke="#000" stroke-width="1.35" stroke-linecap="round"/>
<text transform="translate(1003.33 184.96) scale(1.050 1)" x="0" y="0" style="font-family:'Liberation Serif',serif;font-style:italic;font-size:16.22px">v</text>
<path d="M986.69 163.85 q 2.13 -1.77 4.26 0 t 4.26 0" fill="none" stroke="#000" stroke-width="1.14"/>
<rect x="1050.80" y="118.00" width="101.20" height="50.70" rx="7.00" fill="#d9d9d9" stroke="none" stroke-width="0.00" />
<text x="1083.80" y="138.90" style="font-family:'Liberation Serif',serif;font-size:19.86px;" fill="#404040" >self-</text>
<text x="1065.70" y="162.50" style="font-family:'Liberation Serif',serif;font-size:20.37px;" fill="#404040" >attention</text>
<polyline points="1050.80,145.40 1037.20,145.40" fill="none" stroke="#e97de8" stroke-width="2.20" stroke-linejoin="miter" />
<polygon points="1030.40,145.40 1038.90,141.65 1038.90,149.15" fill="#e97de8"/>
<polyline points="1152.00,145.40 1161.40,145.40 1161.40,488.00 876.30,488.00 876.30,311.00" fill="none" stroke="#e97de8" stroke-width="2.20" stroke-linejoin="miter" />
<polyline points="1019.50,488.00 1019.50,472.10" fill="none" stroke="#e97de8" stroke-width="2.20" stroke-linejoin="miter" />
<polygon points="1019.50,465.30 1015.75,473.80 1023.25,473.80" fill="#e97de8"/>
<text x="866.16" y="306.10" style="font-family:'Liberation Serif',serif;font-style:italic;font-size:20.80px">R</text>
<text transform="translate(878.48 310.26) scale(1.100 1)" x="0" y="0" style="font-family:'Liberation Serif',serif;font-style:italic;font-size:16.22px">c</text>
<path d="M868.29 289.15 q 2.13 -1.77 4.26 0 t 4.26 0" fill="none" stroke="#000" stroke-width="1.14"/>
<rect x="933.00" y="282.40" width="42.40" height="20.20" rx="4.00" fill="#d9d9d9" stroke="none" stroke-width="0.00" />
<rect x="1056.70" y="284.40" width="42.00" height="20.60" rx="4.00" fill="#d9d9d9" stroke="none" stroke-width="0.00" />
<text x="948.79" y="298.60" style="font-family:'Liberation Serif',serif;font-size:21.00px;font-style:italic;" fill="#000" >σ</text>
<text x="1072.29" y="300.80" style="font-family:'Liberation Serif',serif;font-size:21.00px;font-style:italic;" fill="#000" >σ</text>
<polyline points="957.80,282.40 957.80,256.20 999.76,256.20" fill="none" stroke="#000" stroke-width="2.20" stroke-linejoin="miter" />
<polygon points="1006.40,256.20 998.10,252.70 998.10,259.70" fill="#000"/>
<polyline points="1080.80,284.40 1080.80,256.20 1036.84,256.20" fill="none" stroke="#000" stroke-width="2.20" stroke-linejoin="miter" />
<polygon points="1030.20,256.20 1038.50,252.70 1038.50,259.70" fill="#000"/>
<line x1="957.80" y1="333.00" x2="957.80" y2="302.60" stroke="#000" stroke-width="2.60"/>
<line x1="1081.00" y1="330.50" x2="1081.00" y2="305.00" stroke="#000" stroke-width="2.60"/>
<rect x="929.20" y="333.00" width="10.04" height="10.04" rx="0.00" fill="#f0e6fc" stroke="none" stroke-width="1.00" />
<rect x="938.94" y="333.00" width="10.61" height="10.04" rx="0.00" fill="#c8bdd6" stroke="none" stroke-width="1.00" />
<rect x="949.26" y="333.00" width="10.04" height="10.04" rx="0.00" fill="#b3a7c0" stroke="none" stroke-width="1.00" />
<rect x="959.00" y="333.00" width="10.38" height="10.04" rx="0.00" fill="#c8bdd6" stroke="none" stroke-width="1.00" />
<rect x="969.08" y="333.00" width="10.84" height="10.04" rx="0.00" fill="#e2d9f2" stroke="none" stroke-width="1.00" />
<rect x="979.62" y="333.00" width="8.32" height="10.04" rx="0.00" fill="#f0e6fc" stroke="none" stroke-width="1.00" />
<rect x="929.20" y="342.74" width="10.04" height="9.70" rx="0.00" fill="#c8bdd6" stroke="none" stroke-width="1.00" />
<rect x="938.94" y="342.74" width="10.61" height="9.70" rx="0.00" fill="#c8bdd6" stroke="none" stroke-width="1.00" />
<rect x="949.26" y="342.74" width="10.04" height="9.70" rx="0.00" fill="#c8bdd6" stroke="none" stroke-width="1.00" />
<rect x="959.00" y="342.74" width="10.38" height="9.70" rx="0.00" fill="#f0e6fc" stroke="none" stroke-width="1.00" />
<rect x="969.08" y="342.74" width="10.84" height="9.70" rx="0.00" fill="#e2d9f2" stroke="none" stroke-width="1.00" />
<rect x="979.62" y="342.74" width="8.32" height="9.70" rx="0.00" fill="#f0e6fc" stroke="none" stroke-width="1.00" />
<rect x="929.20" y="352.14" width="10.04" height="9.24" rx="0.00" fill="#f0e6fc" stroke="none" stroke-width="1.00" />
<rect x="938.94" y="352.14" width="10.61" height="9.24" rx="0.00" fill="#c8bdd6" stroke="none" stroke-width="1.00" />
<rect x="949.26" y="352.14" width="10.04" height="9.24" rx="0.00" fill="#e2d9f2" stroke="none" stroke-width="1.00" />
<rect x="959.00" y="352.14" width="10.38" height="9.24" rx="0.00" fill="#b3a7c0" stroke="none" stroke-width="1.00" />
<rect x="969.08" y="352.14" width="10.84" height="9.24" rx="0.00" fill="#e2d9f2" stroke="none" stroke-width="1.00" />
<rect x="979.62" y="352.14" width="8.32" height="9.24" rx="0.00" fill="#f0e6fc" stroke="none" stroke-width="1.00" />
<rect x="929.20" y="361.08" width="10.04" height="9.24" rx="0.00" fill="#f0e6fc" stroke="none" stroke-width="1.00" />
<rect x="938.94" y="361.08" width="10.61" height="9.24" rx="0.00" fill="#c8bdd6" stroke="none" stroke-width="1.00" />
<rect x="949.26" y="361.08" width="10.04" height="9.24" rx="0.00" fill="#9d90a8" stroke="none" stroke-width="1.00" />
<rect x="959.00" y="361.08" width="10.38" height="9.24" rx="0.00" fill="#e2d9f2" stroke="none" stroke-width="1.00" />
<rect x="969.08" y="361.08" width="10.84" height="9.24" rx="0.00" fill="#e2d9f2" stroke="none" stroke-width="1.00" />
<rect x="979.62" y="361.08" width="8.32" height="9.24" rx="0.00" fill="#f0e6fc" stroke="none" stroke-width="1.00" />
<rect x="929.20" y="370.02" width="10.04" height="9.35" rx="0.00" fill="#f0e6fc" stroke="none" stroke-width="1.00" />
<rect x="938.94" y="370.02" width="10.61" height="9.35" rx="0.00" fill="#c8bdd6" stroke="none" stroke-width="1.00" />
<rect x="949.26" y="370.02" width="10.04" height="9.35" rx="0.00" fill="#b3a7c0" stroke="none" stroke-width="1.00" />
<rect x="959.00" y="370.02" width="10.38" height="9.35" rx="0.00" fill="#c8bdd6" stroke="none" stroke-width="1.00" />
<rect x="969.08" y="370.02" width="10.84" height="9.35" rx="0.00" fill="#e2d9f2" stroke="none" stroke-width="1.00" />
<rect x="979.62" y="370.02" width="8.32" height="9.35" rx="0.00" fill="#f0e6fc" stroke="none" stroke-width="1.00" />
<rect x="929.20" y="379.07" width="10.04" height="10.04" rx="0.00" fill="#f0e6fc" stroke="none" stroke-width="1.00" />
<rect x="938.94" y="379.07" width="10.61" height="10.04" rx="0.00" fill="#e2d9f2" stroke="none" stroke-width="1.00" />
<rect x="949.26" y="379.07" width="10.04" height="10.04" rx="0.00" fill="#c8bdd6" stroke="none" stroke-width="1.00" />
<rect x="959.00" y="379.07" width="10.38" height="10.04" rx="0.00" fill="#c8bdd6" stroke="none" stroke-width="1.00" />
<rect x="969.08" y="379.07" width="10.84" height="10.04" rx="0.00" fill="#e2d9f2" stroke="none" stroke-width="1.00" />
<rect x="979.62" y="379.07" width="8.32" height="10.04" rx="0.00" fill="#f0e6fc" stroke="none" stroke-width="1.00" />
<rect x="929.20" y="333.00" width="58.40" height="55.80" rx="0.00" fill="none" stroke="#7030a0" stroke-width="1.30" />
<rect x="1074.70" y="330.50" width="12.30" height="8.55" rx="0.00" fill="#f0e6fc" stroke="none" stroke-width="1.00" />
<rect x="1074.70" y="338.75" width="12.30" height="11.19" rx="0.00" fill="#e2d9f2" stroke="none" stroke-width="1.00" />
<rect x="1074.70" y="349.64" width="12.30" height="10.04" rx="0.00" fill="#b3a7c0" stroke="none" stroke-width="1.00" />
<rect x="1074.70" y="359.38" width="12.30" height="10.61" rx="0.00" fill="#e2d9f2" stroke="none" stroke-width="1.00" />
<rect x="1074.70" y="369.69" width="12.30" height="10.04" rx="0.00" fill="#c8bdd6" stroke="none" stroke-width="1.00" />
<rect x="1074.70" y="379.43" width="12.30" height="10.27" rx="0.00" fill="#f0e6fc" stroke="none" stroke-width="1.00" />
<rect x="1074.70" y="330.50" width="12.00" height="58.90" rx="0.00" fill="none" stroke="#9f72c9" stroke-width="1.20" />
<polyline points="959.70,416.00 959.70,396.00" fill="none" stroke="#a6a6a6" stroke-width="2.00" stroke-linejoin="miter" />
<polygon points="959.70,389.60 956.20,397.60 963.20,397.60" fill="#a6a6a6"/>
<polyline points="1080.90,416.00 1080.90,396.40" fill="none" stroke="#a6a6a6" stroke-width="2.00" stroke-linejoin="miter" />
<polygon points="1080.90,390.00 1077.40,398.00 1084.40,398.00" fill="#a6a6a6"/>
<rect x="904.70" y="416.00" width="229.50" height="49.30" rx="9.00" fill="#d9d9d9" stroke="none" stroke-width="0.00" />
<text x="947.90" y="435.50" style="font-family:'Liberation Serif',serif;font-size:20.45px;" fill="#404040" >temporal-channel</text>
<text x="984.40" y="461.10" style="font-family:'Liberation Serif',serif;font-size:20.11px;" fill="#404040" >filtration</text>
<polyline points="1186.50,322.60 1267.00,322.60" fill="none" stroke="#c55a11" stroke-width="2.20" stroke-linejoin="miter" />
<polygon points="1273.80,322.60 1265.30,318.85 1265.30,326.35" fill="#c55a11"/>
<text x="1228.34" y="311.80" style="font-family:'Liberation Serif',serif;font-style:italic;font-size:19.00px">R</text>
<text transform="translate(1239.60 315.60) scale(1.200 1)" x="0" y="0" style="font-family:'Liberation Serif',serif;font-style:italic;font-size:14.82px">m</text>
<path d="M1230.29 296.31 q 1.95 -1.62 3.89 0 t 3.89 0" fill="none" stroke="#000" stroke-width="1.04"/>
<text x="1253.50" y="30.00" style="font-family:'Liberation Serif',serif;font-size:23.02px;font-weight:bold;" fill="#2f5597" >Moment Retrieval &amp;</text>
<text x="1285.20" y="57.00" style="font-family:'Liberation Serif',serif;font-size:23.23px;font-weight:bold;" fill="#2f5597" >Segmentation</text>
<text x="1293.80" y="113.60" style="font-family:'Liberation Serif',serif;font-size:22.70px;" fill="#000" >Start</text>
<text x="1289.50" y="140.70" style="font-family:'Liberation Serif',serif;font-size:22.82px;" fill="#000" >Frame</text>
<text x="1376.50" y="113.60" style="font-family:'Liberation Serif',serif;font-size:23.17px;" fill="#000" >End</text>
<text x="1369.20" y="140.70" style="font-family:'Liberation Serif',serif;font-size:22.50px;" fill="#000" >Frame</text>
<polyline points="1322.00,182.00 1322.00,152.44" fill="none" stroke="#000" stroke-width="2.20" stroke-linejoin="miter" />
<polygon points="1322.00,145.80 1318.50,154.10 1325.50,154.10" fill="#000"/>
<polyline points="1397.50,182.00 1397.50,152.44" fill="none" stroke="#000" stroke-width="2.20" stroke-linejoin="miter" />
<polygon points="1397.50,145.80 1394.00,154.10 1401.00,154.10" fill="#000"/>
<rect x="1272.40" y="181.60" width="186.20" height="72.90" rx="11.00" fill="#f2f2f2" stroke="#000" stroke-width="1.40" />
<text x="1317.80" y="212.70" style="font-family:'Liberation Serif',serif;font-size:23.11px;" fill="#404040" >Multi-task</text>
<text x="1287.00" y="240.50" style="font-family:'Liberation Serif',serif;font-size:23.06px;" fill="#404040" >Prediction Heads</text>
<polyline points="1365.40,289.40 1365.40,261.14" fill="none" stroke="#000" stroke-width="2.20" stroke-linejoin="miter" />
<polygon points="1365.40,254.50 1361.90,262.80 1368.90,262.80" fill="#000"/>
<rect x="1274.00" y="289.20" width="184.40" height="73.30" rx="11.00" fill="#f2f2f2" stroke="#000" stroke-width="1.40" />
<text x="1308.30" y="321.30" style="font-family:'Liberation Serif',serif;font-size:23.03px;" fill="#404040" >Multi-modal</text>
<text x="1328.20" y="348.90" style="font-family:'Liberation Serif',serif;font-size:22.99px;" fill="#404040" >Encoder</text>
<polyline points="1365.40,362.50 1365.40,391.36" fill="none" stroke="#000" stroke-width="2.20" stroke-linejoin="miter" />
<polygon points="1365.40,398.00 1361.90,389.70 1368.90,389.70" fill="#000"/>
<rect x="1273.00" y="399.20" width="185.40" height="73.10" rx="11.00" fill="#f2f2f2" stroke="#000" stroke-width="1.40" />
<text x="1303.70" y="443.90" style="font-family:'Liberation Serif',serif;font-size:23.15px;" fill="#404040" >Text Decoder</text>
<polyline points="1365.40,472.30 1365.40,500.96" fill="none" stroke="#000" stroke-width="2.20" stroke-linejoin="miter" />
<polygon points="1365.40,507.60 1361.90,499.30 1368.90,499.30" fill="#000"/>
<text x="1300.30" y="528.50" style="font-family:'Liberation Serif',serif;font-size:22.93px;" fill="#000" >Step Captions</text>
<text x="1282.70" y="585.40" style="font-family:'Liberation Serif',serif;font-size:23.12px;font-weight:bold;" fill="#2f5597" >Step Captioning</text>
</svg>
</body></html>
